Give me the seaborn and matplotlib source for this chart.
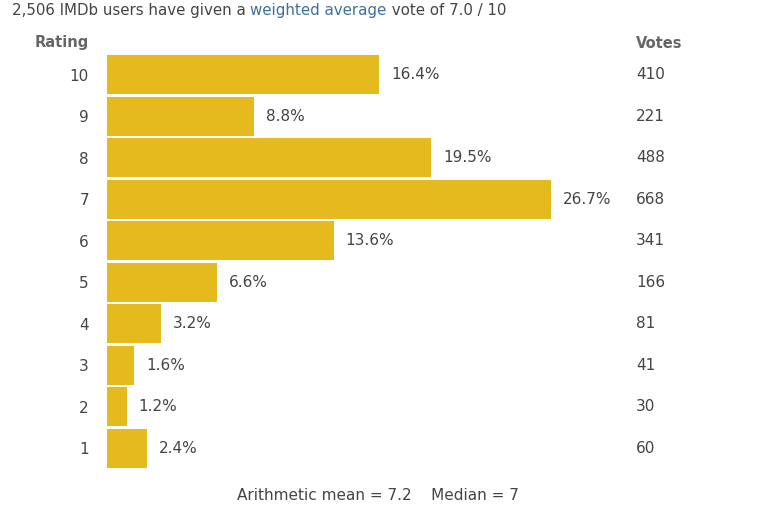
import matplotlib
matplotlib.use('Agg')
import matplotlib.pyplot as plt
import matplotlib.transforms as mtransforms
import seaborn as sns
import pandas as pd

# datos
ratings = ['10', '9', '8', '7', '6', '5', '4', '3', '2', '1']
votes = [410, 221, 488, 668, 341, 166, 81, 41, 30, 60]
pct_labels = ['16.4%', '8.8%', '19.5%', '26.7%', '13.6%', '6.6%', '3.2%', '1.6%', '1.2%', '2.4%']
total_votes = '2,506'
title_parts = [total_votes + ' IMDb users have given a ', 'weighted average', ' vote of 7.0 / 10']
footer = 'Arithmetic mean = 7.2    Median = 7'

bar_color = '#E5BA1F'
text_color = '#444444'
head_color = '#666666'
link_color = '#3D6F9E'

sns.set_theme(style='white')
plt.rcParams['font.family'] = ['DejaVu Sans']

df = pd.DataFrame({'rating': ratings, 'votes': votes})

W, H = 760, 532
fig = plt.figure(figsize=(W / 100, H / 100), dpi=100)
ax = fig.add_axes([107 / W, 1 - 469 / H, 465 / W, 415 / H])

sns.barplot(data=df, x='votes', y='rating', order=ratings, color=bar_color,
            saturation=1, width=0.95, ax=ax, linewidth=0)
ax.set_xlim(0, 700)
ax.set_ylim(9.5, -0.5)
ax.bar_label(ax.containers[0], labels=pct_labels, padding=8.5,
             fontsize=11, color=text_color)

# etiquetas y columnas
ax.set_xlabel('')
ax.set_ylabel('')
ax.set_xticks([])
ax.tick_params(axis='y', length=0, pad=13, labelsize=11, labelcolor=text_color)
for s in ax.spines.values():
    s.set_visible(False)

trans = mtransforms.blended_transform_factory(fig.transFigure, ax.transData)
for i, v in enumerate(votes):
    ax.text(636 / W, i, str(v), transform=trans, ha='left', va='center',
            fontsize=11, color=text_color)

fig.text(89 / W, 1 - 43 / H, 'Rating', ha='right', va='center', fontsize=10.5,
         fontweight='bold', color=head_color)
fig.text(636 / W, 1 - 43 / H, 'Votes', ha='left', va='center', fontsize=10.5,
         fontweight='bold', color=head_color)

# titulo con enlace en azul
fig.canvas.draw()
renderer = fig.canvas.get_renderer()
x0 = 12 / W
for part, col in zip(title_parts, [text_color, link_color, text_color]):
    t = fig.text(x0, 1 - 10 / H, part, ha='left', va='center', fontsize=10.8,
                 color=col)
    bb = t.get_window_extent(renderer)
    x0 = bb.x1 / W

fig.text(378 / W, 1 - 496 / H, footer, ha='center', va='center', fontsize=11,
         color=text_color)

plt.savefig('out.png', dpi=100)
